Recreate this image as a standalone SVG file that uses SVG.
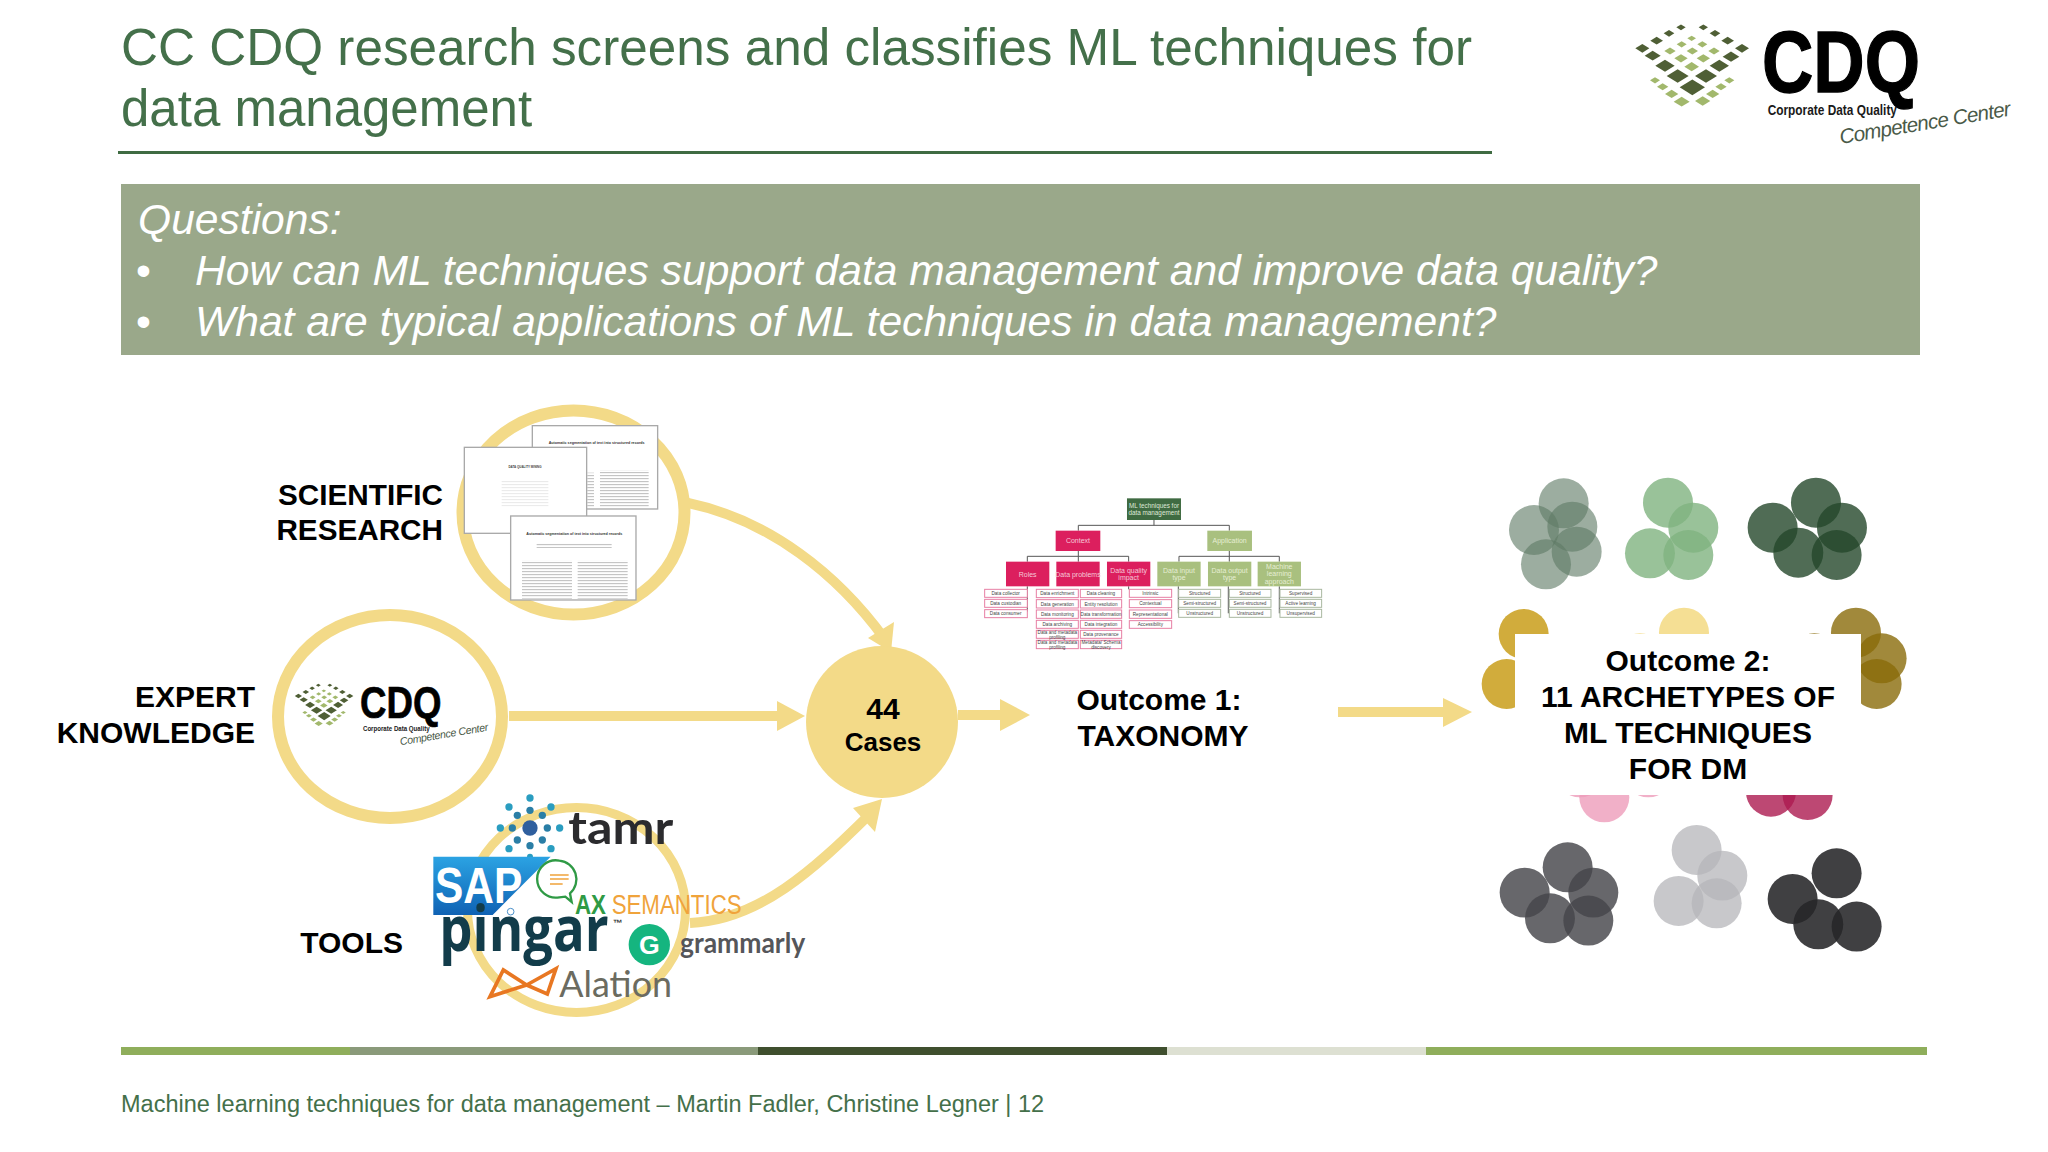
<svg xmlns="http://www.w3.org/2000/svg" xmlns:xlink="http://www.w3.org/1999/xlink" width="2048" height="1152" viewBox="0 0 2048 1152">
<style>
text{font-family:"Liberation Sans",Arial,sans-serif}
.lbl{font-size:30px;font-weight:700;fill:#000}
.e{text-anchor:end}.m{text-anchor:middle}
.q{font-size:42.6px;font-style:italic;fill:#fff}
.ring{fill:#fff;stroke:#f3da88;stroke-width:12}
.flow{fill:none;stroke:#f3da88;stroke-width:10}
.head{fill:#f3da88}
.tl{fill:none;stroke:#555;stroke-width:3}
.t0{font-size:19px;fill:#dfe8d8}
.t1{font-size:21px;fill:#f6c9d8}
.t2{font-size:21px;fill:#e6eed4}
.leafp{fill:#fff;stroke:#e77fa4;stroke-width:3}
.leafg{fill:#fff;stroke:#a9b8a0;stroke-width:3}
.lt{font-size:14px;fill:#444;text-anchor:middle}
.page{fill:#fff;stroke:#a9a9a9;stroke-width:4}
.dk{fill:#4f5f35}.lg{fill:#a2b86c}
</style>
<defs>
<path id="d" d="M-1 0L0-.62 1 0 0 .62Z"/>
<pattern id="bl" width="10" height="9" patternUnits="userSpaceOnUse"><rect width="10" height="3.5" fill="#c4c4c4"/></pattern>
<linearGradient id="sapg" x1="0" y1="0" x2="0" y2="1"><stop offset="0" stop-color="#2ba3e3"/><stop offset="1" stop-color="#0f62b4"/></linearGradient>
<g id="logo">
<g class="dk">
<use href="#d" transform="translate(127,145) scale(21)"/><use href="#d" transform="translate(158,167) scale(24)"/><use href="#d" transform="translate(195,197) scale(29)"/><use href="#d" transform="translate(233,228) scale(33)"/><use href="#d" transform="translate(277,262) scale(38)"/><use href="#d" transform="translate(318,228) scale(33)"/><use href="#d" transform="translate(358,197) scale(29)"/><use href="#d" transform="translate(393,170) scale(25)"/><use href="#d" transform="translate(426,145) scale(21)"/><use href="#d" transform="translate(170,122) scale(19)"/><use href="#d" transform="translate(207,100) scale(16)"/><use href="#d" transform="translate(243,82) scale(14)"/><use href="#d" transform="translate(310,82) scale(14)"/><use href="#d" transform="translate(345,100) scale(16)"/><use href="#d" transform="translate(383,122) scale(19)"/>
</g>
<g class="lg">
<use href="#d" transform="translate(275,115) scale(13)"/><use href="#d" transform="translate(245,133) scale(15)"/><use href="#d" transform="translate(307,133) scale(15)"/><use href="#d" transform="translate(210,153) scale(17)"/><use href="#d" transform="translate(277,153) scale(17)"/><use href="#d" transform="translate(342,153) scale(17)"/><use href="#d" transform="translate(243,175) scale(20)"/><use href="#d" transform="translate(310,175) scale(20)"/><use href="#d" transform="translate(275,200) scale(22)"/><use href="#d" transform="translate(165,241) scale(15)"/><use href="#d" transform="translate(188,260) scale(17)"/><use href="#d" transform="translate(215,282) scale(20)"/><use href="#d" transform="translate(245,305) scale(24)"/><use href="#d" transform="translate(308,303) scale(23)"/><use href="#d" transform="translate(338,282) scale(20)"/><use href="#d" transform="translate(363,260) scale(17)"/><use href="#d" transform="translate(388,241) scale(15)"/>
</g>
<text x="486" y="276" font-size="262" font-weight="700" fill="#000" textLength="474" lengthAdjust="spacingAndGlyphs" stroke="#000" stroke-width="4">CDQ</text>
<text x="503" y="346" font-size="46" font-weight="700" fill="#1a1a1a" textLength="388" lengthAdjust="spacingAndGlyphs">Corporate Data Quality</text>
<text transform="translate(722,432) rotate(-9.5)" font-size="62" font-style="italic" fill="#4a5a48" textLength="520" lengthAdjust="spacing">Competence Center</text>
</g>
</defs>
<rect width="2048" height="1152" fill="#fff"/>

<g id="header">
<text x="121" y="65" font-size="51.4" fill="#44704a" textLength="1351" lengthAdjust="spacingAndGlyphs">CC CDQ research screens and classifies ML techniques for</text>
<text x="121" y="126" font-size="51" fill="#44704a">data management</text>
<rect x="118" y="151" width="1374" height="3" fill="#3f6b42"/>
<use href="#logo" transform="translate(1600,0) scale(.3333)"/>
</g>

<g id="questions">
<rect x="121" y="184" width="1799" height="171" fill="#9aa88a"/>
<text class="q" x="138" y="234">Questions:</text>
<text class="q" x="136" y="285" style="font-style:normal">•</text>
<text class="q" x="195" y="285">How can ML techniques support data management and improve data quality?</text>
<text class="q" x="136" y="336" style="font-style:normal">•</text>
<text class="q" x="195" y="336">What are typical applications of ML techniques in data management?</text>
</g>

<g id="connectors">
<path class="flow" d="M688 503C770 520 838 575 884 638"/>
<path class="head" d="M891 652L868 638 894 622Z"/>
<path class="flow" d="M509 716H780"/>
<path class="head" d="M805 716L777 701V731Z"/>
<path class="flow" d="M690 923C760 920 815 868 866 818"/>
<path class="head" d="M882 799L853 808 875 832Z"/>
<path class="flow" d="M958 715H1005"/>
<path class="head" d="M1030 715L1000 699V731Z"/>
<path class="flow" d="M1338 712H1445"/>
<path class="head" d="M1472 712L1443 698V727Z"/>
</g>

<g id="scientific-research">
<ellipse class="ring" cx="573.500" cy="512.500" rx="111" ry="102"/>
<g transform="translate(440,400) scale(.3333)">
<rect class="page" x="277" y="77" width="376" height="250"/>
<text x="470" y="132" font-size="11" font-weight="700" text-anchor="middle" fill="#333">Automatic segmentation of text into structured records</text>
<rect x="480" y="210" width="146" height="112" fill="url(#bl)"/><rect x="442" y="218" width="20" height="104" fill="url(#bl)"/>
<rect class="page" x="73" y="142" width="367" height="258"/>
<text x="255" y="204" font-size="9" font-family="Liberation Serif" font-weight="700" text-anchor="middle" fill="#444">DATA QUALITY MINING</text>
<rect x="185" y="240" width="140" height="80" fill="url(#bl)" opacity=".35"/>
<rect class="page" x="212" y="348" width="376" height="252"/>
<text x="403" y="404" font-size="11" font-weight="700" text-anchor="middle" fill="#333">Automatic segmentation of text into structured records</text>
<rect x="290" y="430" width="225" height="14" fill="url(#bl)"/>
<rect x="246" y="482" width="150" height="114" fill="url(#bl)"/><rect x="413" y="482" width="150" height="114" fill="url(#bl)"/>
</g>
<text class="lbl e" x="443" y="505" style="font-size:29.7px">SCIENTIFIC</text>
<text class="lbl e" x="443" y="540" style="font-size:29.7px">RESEARCH</text>
</g>

<g id="expert-knowledge">
<ellipse class="ring" cx="390" cy="716.500" rx="112" ry="101.500"/>
<use href="#logo" transform="translate(276.6,671.1) scale(.1717)"/>
<text class="lbl e" x="255" y="707">EXPERT</text>
<text class="lbl e" x="255" y="743">KNOWLEDGE</text>
</g>

<g id="tools">
<ellipse class="ring" cx="576.500" cy="910" rx="109" ry="102.500" style="stroke-width:9"/>
<text class="lbl e" x="403" y="953">TOOLS</text>
<g transform="translate(420,780) scale(.3333)">
<g fill="#2a9dc0">
<circle cx="330" cy="54" r="11"/><circle cx="267" cy="81" r="11"/><circle cx="393" cy="81" r="11"/><circle cx="241" cy="144" r="11"/><circle cx="419" cy="144" r="11"/><circle cx="267" cy="206" r="11"/><circle cx="393" cy="206" r="11"/><circle cx="330" cy="230" r="9"/>
<g fill="#2a7ea6"><circle cx="330" cy="91" r="11"/><circle cx="292" cy="106" r="11"/><circle cx="367" cy="106" r="11"/><circle cx="277" cy="144" r="11"/><circle cx="382" cy="144" r="11"/><circle cx="292" cy="180" r="11"/><circle cx="367" cy="180" r="11"/><circle cx="330" cy="197" r="11"/></g>
<circle cx="330" cy="144" r="23" fill="#2f5f9e"/>
</g>
<text x="445" y="192" font-size="140" font-weight="700" fill="#2b2b2e" textLength="315" lengthAdjust="spacingAndGlyphs" style="font-family:Lato,'Liberation Sans',sans-serif">tamr</text>
<path d="M40 230H392L218 405H40Z" fill="url(#sapg)"/>
<text x="45" y="370" font-size="150" font-weight="700" fill="#fff" textLength="262" lengthAdjust="spacingAndGlyphs">SAP</text>
<circle cx="272" cy="395" r="10" fill="none" stroke="#4a90c9" stroke-width="3"/>
<path d="M418 242A56 56 0 1 0 418 352L436 350 455 366 450 340A56 56 0 0 0 418 242Z" fill="#fff" stroke="#2f9a45" stroke-width="7"/>
<path d="M390 285H446M390 297H446M390 312H428" stroke="#f0a33b" stroke-width="5" fill="none"/>
<text x="465" y="403" font-size="84" font-weight="700" fill="#2f9a45" textLength="93" lengthAdjust="spacingAndGlyphs">AX</text>
<text x="575" y="403" font-size="84" fill="#f0a33b" textLength="390" lengthAdjust="spacingAndGlyphs">SEMANTICS</text>
<text x="58" y="512" font-size="190" font-weight="700" fill="#123c4a" textLength="508" lengthAdjust="spacingAndGlyphs" style="font-family:'Open Sans','Liberation Sans',sans-serif">pingar</text>
<text x="578" y="438" font-size="28" font-weight="700" fill="#333">™</text>
<circle cx="688" cy="494" r="62" fill="#15b57f"/>
<text x="688" y="522" font-size="80" font-weight="700" fill="#fff" text-anchor="middle">G</text>
<text x="780" y="520" font-size="86" font-weight="700" fill="#55565a" textLength="376" lengthAdjust="spacingAndGlyphs" style="font-family:Lato,'Liberation Sans',sans-serif">grammarly</text>
<text x="418" y="650" font-size="112" fill="#6b6b60" textLength="338" lengthAdjust="spacingAndGlyphs" style="font-family:Lato,'Liberation Sans',sans-serif">Alation</text>
<path d="M210 650L250 570 320 615 408 566 382 642 320 615Z" fill="none" stroke="#e87722" stroke-width="11"/>
</g>
</g>

<g id="hub">
<circle cx="882" cy="722" r="76" fill="#f3da88"/>
<text class="lbl m" x="883" y="719">44</text>
<text class="lbl m" x="883" y="751" style="font-size:26px">Cases</text>
</g>

<g id="taxonomy">
<g transform="translate(970,490) scale(.3333)">
<path class="tl" d="M552 90V106M325 122V106H778V122M325 183V199M172 215V199H476V215M325 199V215M778 183V199M627 215V199H928V215M778 199V215M172 289V365M625 289V370M775 289V370M928 289V370M476 289V298"/>
<rect x="471" y="25" width="162" height="65" fill="#3f6b42"/>
<text class="t0" text-anchor="middle"><tspan x="552" y="53">ML techniques for</tspan><tspan x="552" y="75">data management</tspan></text>
<g fill="#dc1f5e">
<rect x="257" y="122" width="134" height="61"/><rect x="108" y="215" width="130" height="74"/><rect x="259" y="215" width="130" height="74"/><rect x="411" y="215" width="130" height="74"/>
</g>
<g fill="#a9c07f">
<rect x="712" y="122" width="134" height="61"/><rect x="562" y="215" width="130" height="74"/><rect x="714" y="215" width="130" height="74"/><rect x="863" y="215" width="130" height="74"/>
</g>
<g class="t1" text-anchor="middle">
<text x="324" y="160">Context</text><text x="173" y="260">Roles</text><text x="324" y="260">Data problems</text><text x="476" y="250">Data quality</text><text x="476" y="271">impact</text>
</g>
<g class="t2" text-anchor="middle">
<text x="779" y="160">Application</text><text x="627" y="250">Data input</text><text x="627" y="271">type</text><text x="779" y="250">Data output</text><text x="779" y="271">type</text><text x="928" y="237">Machine</text><text x="928" y="258">learning</text><text x="928" y="281">approach</text>
</g>
<g class="leafp">
<rect x="44" y="298" width="128" height="24"/><rect x="44" y="328" width="128" height="24"/><rect x="44" y="359" width="128" height="24"/>
<rect x="199" y="298" width="126" height="25"/><rect x="199" y="329" width="126" height="25"/><rect x="199" y="360" width="126" height="25"/><rect x="199" y="391" width="126" height="24"/><rect x="199" y="421" width="126" height="24"/><rect x="199" y="451" width="126" height="25"/>
<rect x="331" y="298" width="124" height="25"/><rect x="331" y="329" width="124" height="25"/><rect x="331" y="360" width="124" height="25"/><rect x="331" y="391" width="124" height="24"/><rect x="331" y="421" width="124" height="24"/><rect x="331" y="451" width="124" height="25"/>
<rect x="478" y="298" width="127" height="24"/><rect x="478" y="329" width="127" height="24"/><rect x="478" y="360" width="127" height="25"/><rect x="478" y="392" width="127" height="23"/>
</g>
<g class="leafg">
<rect x="626" y="298" width="126" height="24"/><rect x="626" y="328" width="126" height="24"/><rect x="626" y="358" width="126" height="24"/>
<rect x="778" y="298" width="125" height="24"/><rect x="778" y="328" width="125" height="24"/><rect x="778" y="358" width="125" height="24"/>
<rect x="930" y="298" width="125" height="24"/><rect x="930" y="328" width="125" height="24"/><rect x="930" y="358" width="125" height="24"/>
</g>
<g class="lt">
<text x="107" y="315">Data collector</text><text x="107" y="345">Data custodian</text><text x="107" y="376">Data consumer</text>
<text x="262" y="316">Data enrichment</text><text x="262" y="347">Data generation</text><text x="262" y="378">Data monitoring</text><text x="262" y="408">Data archiving</text><text x="262" y="431">Data and metadata</text><text x="262" y="448">profiling</text><text x="262" y="461">Data and metadata</text><text x="262" y="478">profiling</text>
<text x="393" y="316">Data cleaning</text><text x="393" y="347">Entity resolution</text><text x="393" y="378">Data transformation</text><text x="393" y="408">Data integration</text><text x="393" y="438">Data provenance</text><text x="393" y="461">Metadata/ Schema</text><text x="393" y="478">discovery</text>
<text x="541" y="316">Intrinsic</text><text x="541" y="346">Contextual</text><text x="541" y="378">Representational</text><text x="541" y="409">Accessibility</text>
<text x="689" y="316">Structured</text><text x="689" y="345">Semi-structured</text><text x="689" y="375">Unstructured</text>
<text x="840" y="316">Structured</text><text x="840" y="345">Semi-structured</text><text x="840" y="375">Unstructured</text>
<text x="992" y="316">Supervised</text><text x="992" y="345">Active learning</text><text x="992" y="375">Unsupervised</text>
</g>
</g>
<text class="lbl m" x="1159" y="710">Outcome 1:</text>
<text class="lbl m" x="1163" y="746">TAXONOMY</text>
</g>

<g id="archetypes">
<g transform="translate(1460,460) scale(.3333)">
<g fill="#5f7a66" fill-opacity=".62"><circle cx="311" cy="130" r="75"/><circle cx="337" cy="200" r="75"/><circle cx="350" cy="275" r="75"/><circle cx="222" cy="210" r="75"/><circle cx="258" cy="313" r="75"/></g>
<g fill="#7fb37f" fill-opacity=".8"><circle cx="624" cy="128" r="75"/><circle cx="700" cy="203" r="75"/><circle cx="570" cy="280" r="75"/><circle cx="685" cy="285" r="75"/></g>
<g fill="#24472a" fill-opacity=".8"><circle cx="1068" cy="128" r="75"/><circle cx="1146" cy="203" r="75"/><circle cx="938" cy="203" r="75"/><circle cx="1015" cy="278" r="75"/><circle cx="1130" cy="285" r="75"/></g>
<g fill="#c99d1a" fill-opacity=".85"><circle cx="191" cy="522" r="75"/><circle cx="140" cy="672" r="75"/></g>
<g fill="#f3d981" fill-opacity=".85"><circle cx="672" cy="518" r="75"/><circle cx="540" cy="595" r="75"/></g>
<g fill="#8a6c0a" fill-opacity=".8"><circle cx="1188" cy="518" r="75"/><circle cx="1265" cy="595" r="75"/><circle cx="1250" cy="672" r="75"/><circle cx="1063" cy="595" r="75"/></g>
<g fill="#ee9cba" fill-opacity=".8"><circle cx="433" cy="1012" r="75"/><circle cx="565" cy="937" r="75"/><circle cx="360" cy="937" r="75"/></g>
<g fill="#ad1a50" fill-opacity=".8"><circle cx="933" cy="995" r="75"/><circle cx="1043" cy="1005" r="75"/></g>
<g fill="#46464b" fill-opacity=".82"><circle cx="194" cy="1298" r="75"/><circle cx="323" cy="1222" r="75"/><circle cx="400" cy="1298" r="75"/><circle cx="270" cy="1375" r="75"/><circle cx="385" cy="1382" r="75"/></g>
<g fill="#b5b5ba" fill-opacity=".75"><circle cx="710" cy="1170" r="75"/><circle cx="787" cy="1247" r="75"/><circle cx="656" cy="1323" r="75"/><circle cx="770" cy="1330" r="75"/></g>
<g fill="#262628" fill-opacity=".88"><circle cx="1130" cy="1240" r="75"/><circle cx="998" cy="1317" r="75"/><circle cx="1075" cy="1393" r="75"/><circle cx="1190" cy="1400" r="75"/></g>
</g>
<rect x="1515" y="634" width="346" height="161" fill="#fff"/>
<text class="lbl m" x="1688" y="671">Outcome 2:</text>
<text class="lbl m" x="1688" y="707">11 ARCHETYPES OF</text>
<text class="lbl m" x="1688" y="743">ML TECHNIQUES</text>
<text class="lbl m" x="1688" y="779">FOR DM</text>
</g>

<g id="footer">
<rect x="121" y="1047" width="229" height="8" fill="#8fae5b"/>
<rect x="350" y="1047" width="408" height="8" fill="#8a9a7a"/>
<rect x="758" y="1047" width="409" height="8" fill="#3f4f2e"/>
<rect x="1167" y="1047" width="259" height="8" fill="#dde0d2"/>
<rect x="1426" y="1047" width="501" height="8" fill="#8fae5b"/>
<text x="121" y="1112" font-size="23.5" fill="#44704a">Machine learning techniques for data management – Martin Fadler, Christine Legner | 12</text>
</g>
</svg>
